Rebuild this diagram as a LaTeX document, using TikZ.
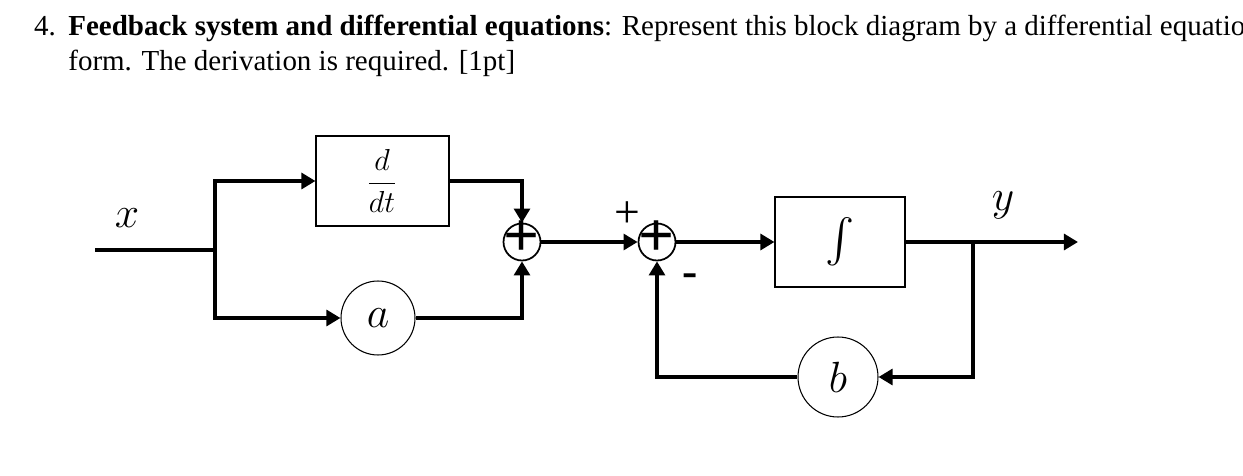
\documentclass[tikz,border=0pt]{standalone}
\usepackage{amsmath}
\usepackage{fontspec}
\setmainfont{Liberation Serif}
\usetikzlibrary{arrows.meta}
\begin{document}
\begin{tikzpicture}[x=0.02cm,y=-0.02cm,
  wire/.style={line width=2.6pt},
  arr/.style={wire,-{Triangle[length=8pt,width=9pt]}},
  blk/.style={draw,line width=0.6pt,inner sep=0pt},
  sum/.style={circle,draw,line width=1pt,minimum size=0.74cm,inner sep=0pt},
  pls/.style={font=\fontsize{36}{36}\selectfont\bfseries},
  lab/.style={font=\fontsize{25}{25}\selectfont}]
\useasboundingbox (0,0) rectangle (1243,476);
\node[anchor=base west,font=\fontsize{16.5}{19}\selectfont] (t1) at (28,36) {4.};
\node[anchor=base west,font=\fontsize{16.5}{19}\selectfont,inner xsep=0pt] (t2) at (68,36) {\textbf{Feedback system and differential equations}: Represent this block diagram by a differential equation};
\node[anchor=base west,font=\fontsize{16.5}{19}\selectfont,inner xsep=0pt] (t3) at (68,71) {form. The derivation is required. [1pt]};

\node[blk,minimum width=2.66cm,minimum height=1.8cm] (D) at (382.5,181) {};
\node[font=\fontsize{17}{17}\selectfont] (Dt) at (382,181) {$\dfrac{d}{dt}$};
\node[circle,blk,minimum size=1.48cm] (A) at (378,318) {\fontsize{26}{26}\selectfont$a$};
\node[sum] (S1) at (522,242) {};
\node[pls] (p1) at (522,239) {+};
\node[sum] (S2) at (657,242) {};
\node[pls] (p2) at (657,239) {+};
\node[blk,minimum width=2.6cm,minimum height=1.8cm] (I) at (840,242) {\fontsize{24}{24}\selectfont$\int$};
\node[circle,blk,minimum size=1.6cm] (B) at (838,377) {\fontsize{26}{26}\selectfont$b$};
\node[lab] (xl) at (127,218) {$x$};
\node[lab] (yl) at (1003,205) {$y$};
\node[font=\fontsize{26}{26}\selectfont] (pl) at (627,215) {+};
\node[font=\fontsize{26}{26}\selectfont\bfseries] (ml) at (690,280) {-};

\coordinate (xin) at (95,250);
\coordinate (br) at (215,250);
\coordinate (yout) at (1078,242);
\coordinate (ybr) at (973,242);
\draw[wire] (xin) -- (br);
\draw[arr] (br) |- (D.west);
\draw[arr] (br) |- (A.west);
\draw[arr] (D.east) -| (S1.north);
\draw[arr] (A.east) -| (S1.south);
\draw[arr] (S1.east) -- (S2.west);
\draw[arr] (S2.east) -- (I.west);
\draw[arr] (I.east) -- (yout);
\draw[arr] (ybr) |- (B.east);
\draw[arr] (B.west) -| (S2.south);
\end{tikzpicture}
\end{document}
